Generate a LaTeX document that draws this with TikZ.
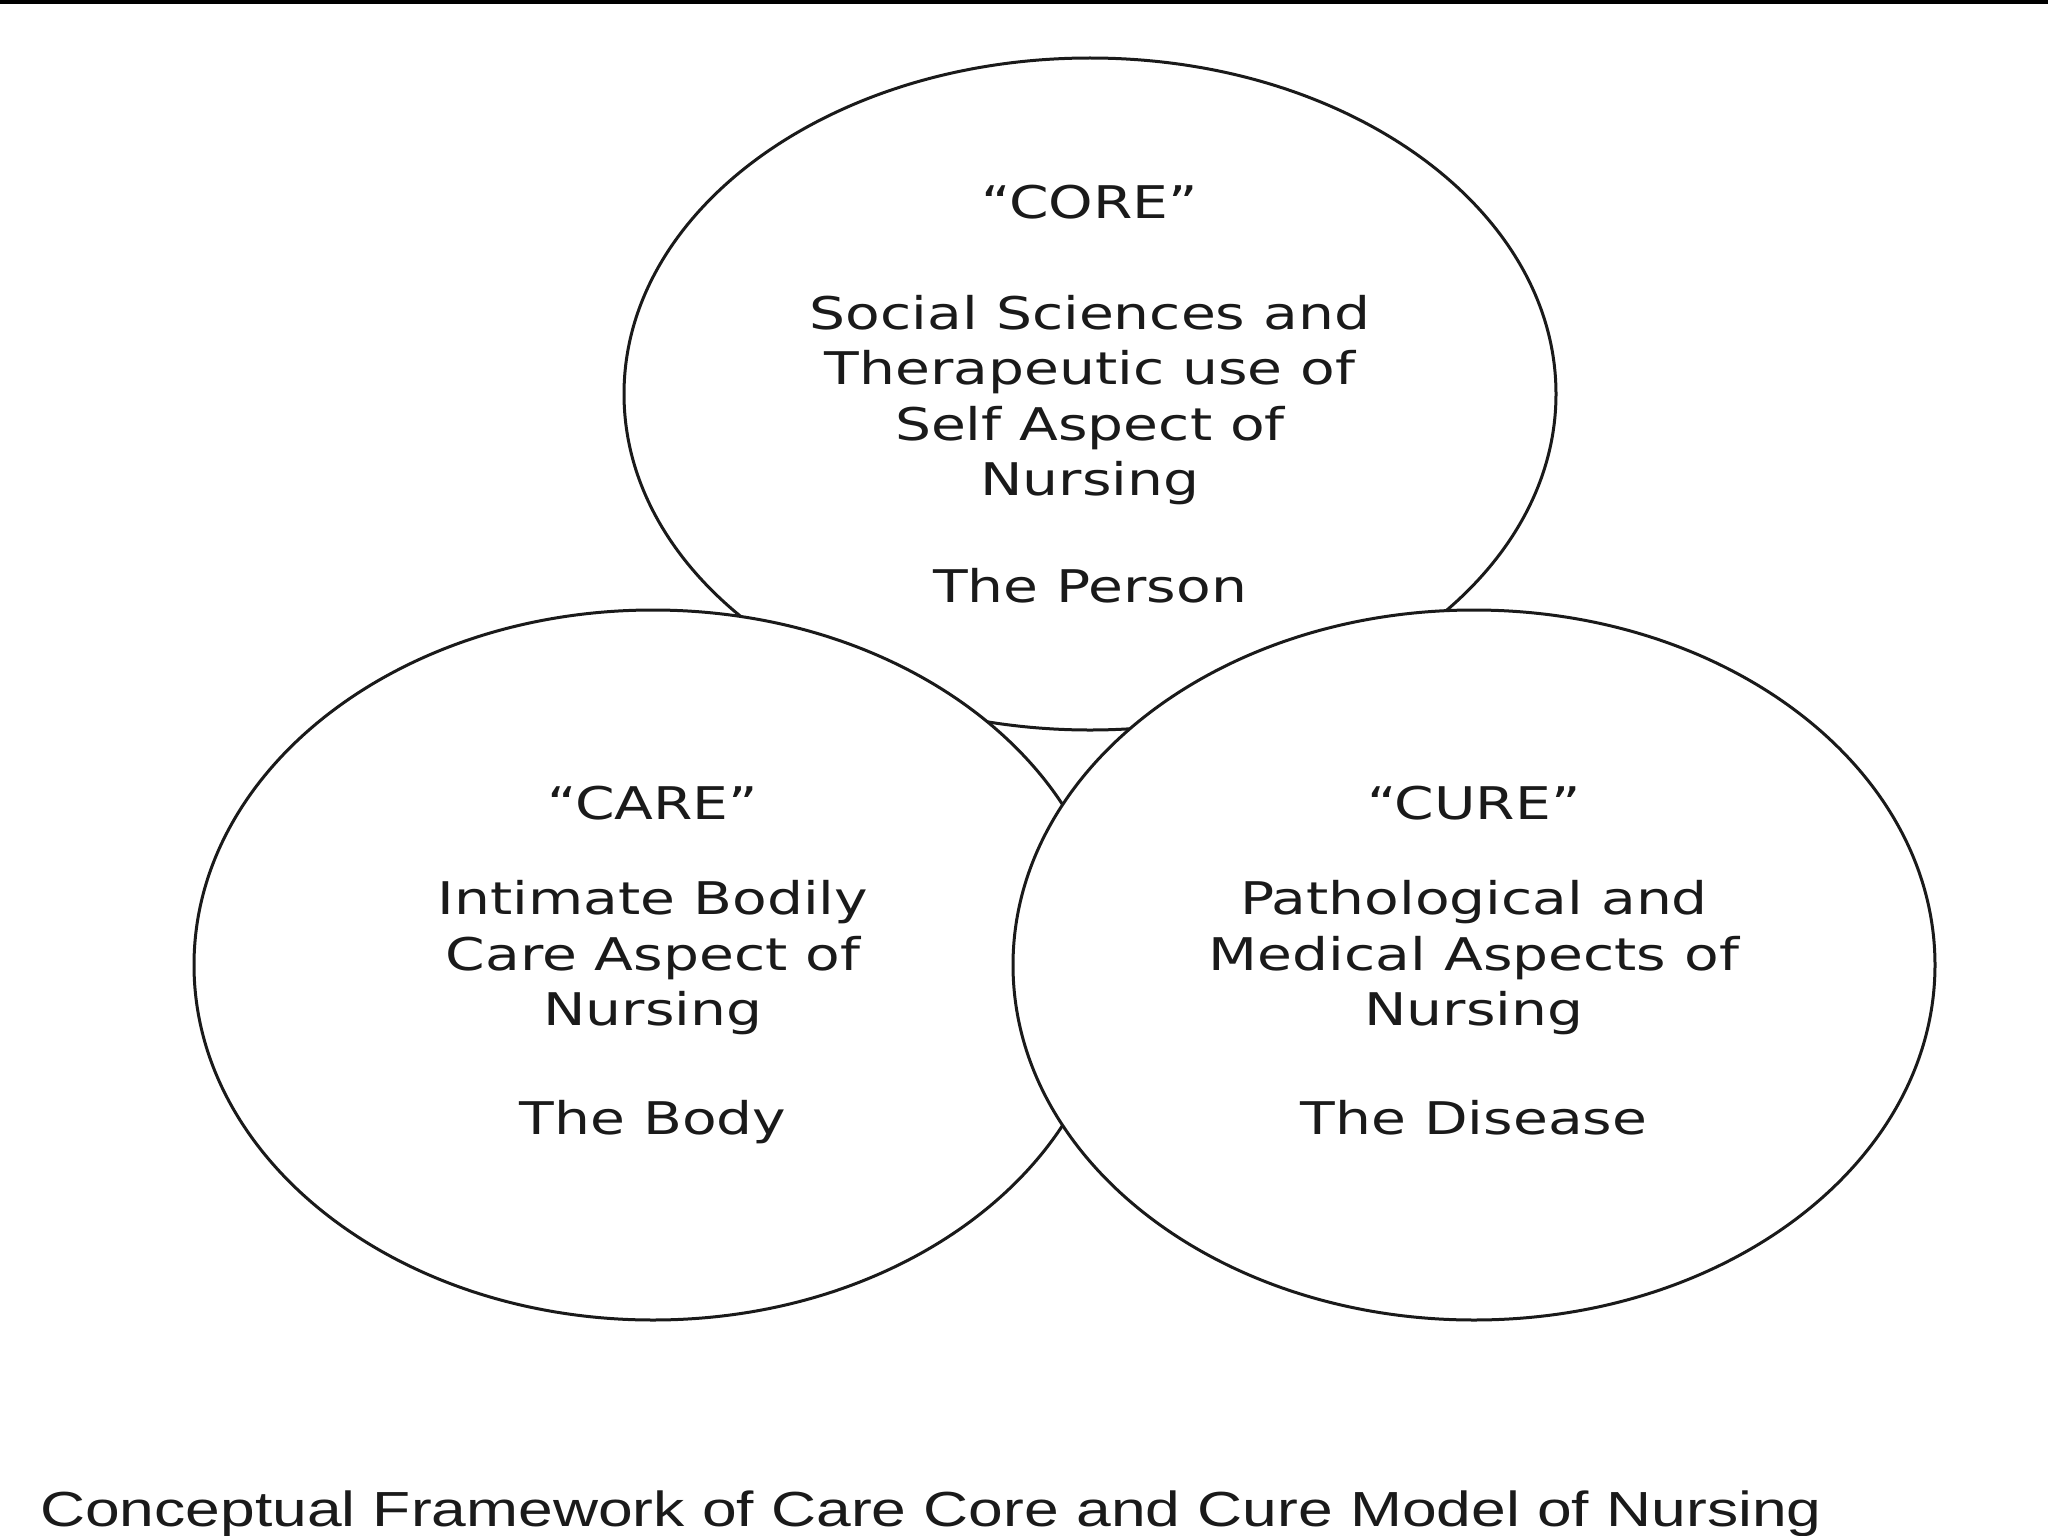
\documentclass[tikz,border=0pt]{standalone}
\usepackage{fontspec}
\usepackage{xcolor}
\usepackage{tikz}
\usetikzlibrary{shapes.geometric}

\newfontfamily\ovalfont[FakeStretch=1.26]{DejaVu Sans}
\newfontfamily\capfont[FakeStretch=1.265]{Liberation Sans}
\definecolor{inkgray}{HTML}{1A1A1A}

\tikzset{
    oval/.style={ellipse,
        draw = inkgray,
        line width=3pt,
        fill = white,
        text = inkgray,
        align = center,
        inner sep=0pt,
        font=\ovalfont\fontsize{45}{55.5}\selectfont}
}

\begin{document}
\begin{tikzpicture}[x=1pt, y=-1pt]
    \fill[white] (0,0) rectangle (2048,1536);
    \useasboundingbox (0,0) rectangle (2048,1536);
    \fill[black] (0,0) rectangle (2048,4);

    \node[oval,
    minimum width=932pt,
    minimum height=672pt] (core) at (1090,394)
    {“CORE”\\[55.5pt]
        Social Sciences and\\Therapeutic use of\\Self Aspect of\\Nursing\\[51pt]
        The Person};

    \node[oval,
    minimum width=918pt,
    minimum height=710pt] (care) at (653,965)
    {“CARE”\\[39.5pt]
        Intimate Bodily\\Care Aspect of\\Nursing\\[53.5pt]
        The Body};

    \node[oval,
    minimum width=922pt,
    minimum height=710pt] (cure) at (1474,965)
    {“CURE”\\[39.5pt]
        Pathological and\\Medical Aspects of\\Nursing\\[53.5pt]
        The Disease\vphantom{y}};

    \node[anchor=base west,
    inner sep=0pt,
    text = inkgray,
    font=\capfont\fontsize{49.3}{59}\selectfont] (title) at (40,1526)
    {Conceptual Framework of Care Core and Cure Model of Nursing};
\end{tikzpicture}
\end{document}
